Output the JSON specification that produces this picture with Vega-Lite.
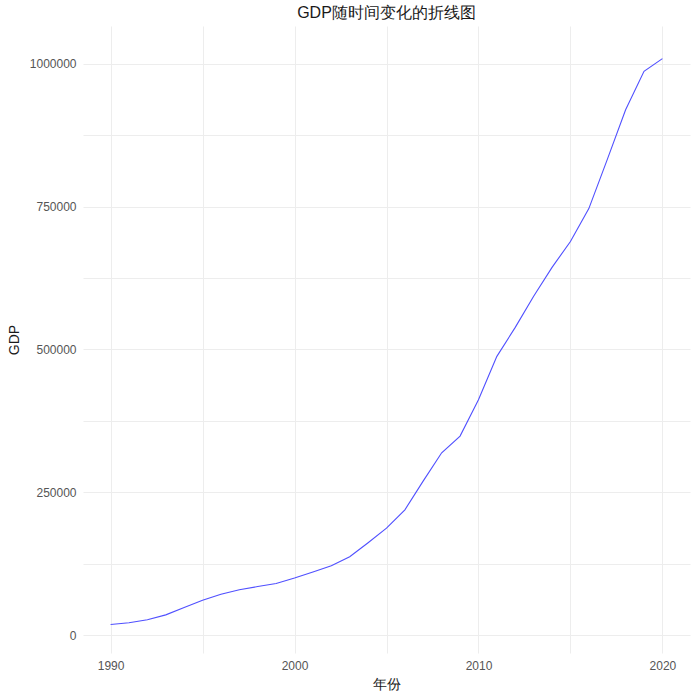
{
  "$schema": "https://vega.github.io/schema/vega-lite/v6.json",
  "autosize": "none",
  "width": 607,
  "height": 627,
  "padding": {"left": 83, "top": 26, "right": 2, "bottom": 40},
  "background": "white",
  "title": {"text": "GDP随时间变化的折线图", "anchor": "middle", "font": "Liberation Sans", "fontSize": 16, "fontWeight": "normal", "color": "#1a1a1a", "offset": 5},
  "config": {
    "view": {"stroke": null},
    "axis": {"domain": false, "ticks": false, "labelColor": "#555555", "labelFont": "Liberation Sans", "labelFontSize": 12, "titleFont": "Liberation Sans", "titleFontSize": 14, "titleFontWeight": "normal", "titleColor": "#1a1a1a", "gridColor": "#ededed", "gridWidth": 1}
  },
  "data": {"values": [
    {"year": 1990, "gdp": 18872.9},
    {"year": 1991, "gdp": 22005.6},
    {"year": 1992, "gdp": 27194.5},
    {"year": 1993, "gdp": 35673.2},
    {"year": 1994, "gdp": 48637.5},
    {"year": 1995, "gdp": 61339.9},
    {"year": 1996, "gdp": 71813.6},
    {"year": 1997, "gdp": 79715.0},
    {"year": 1998, "gdp": 85195.5},
    {"year": 1999, "gdp": 90564.4},
    {"year": 2000, "gdp": 100280.1},
    {"year": 2001, "gdp": 110863.1},
    {"year": 2002, "gdp": 121717.4},
    {"year": 2003, "gdp": 137422.0},
    {"year": 2004, "gdp": 161840.2},
    {"year": 2005, "gdp": 187318.9},
    {"year": 2006, "gdp": 219438.5},
    {"year": 2007, "gdp": 270092.3},
    {"year": 2008, "gdp": 319244.6},
    {"year": 2009, "gdp": 348517.7},
    {"year": 2010, "gdp": 412119.3},
    {"year": 2011, "gdp": 487940.2},
    {"year": 2012, "gdp": 538580.0},
    {"year": 2013, "gdp": 592963.2},
    {"year": 2014, "gdp": 643563.1},
    {"year": 2015, "gdp": 688858.2},
    {"year": 2016, "gdp": 746395.1},
    {"year": 2017, "gdp": 832035.9},
    {"year": 2018, "gdp": 919281.1},
    {"year": 2019, "gdp": 986515.2},
    {"year": 2020, "gdp": 1008782.5}
  ]},
  "mark": {"type": "line", "color": "#5050ff", "strokeWidth": 1.1},
  "encoding": {
    "x": {"field": "year", "type": "quantitative", "title": "年份",
      "scale": {"domain": [1988.5, 2021.5], "nice": false, "zero": false},
      "axis": {"values": [1990, 1995, 2000, 2005, 2010, 2015, 2020], "format": "d", "labelExpr": "datum.value % 10 == 0 ? datum.label : ''", "labelPadding": 7, "titlePadding": 6}},
    "y": {"field": "gdp", "type": "quantitative", "title": "GDP",
      "scale": {"domain": [-31000, 1065800], "nice": false, "zero": false},
      "axis": {"values": [0, 125000, 250000, 375000, 500000, 625000, 750000, 875000, 1000000], "format": "d", "labelExpr": "datum.value % 250000 == 0 ? datum.label : ''", "labelPadding": 7, "titlePadding": 8}}
  }
}
